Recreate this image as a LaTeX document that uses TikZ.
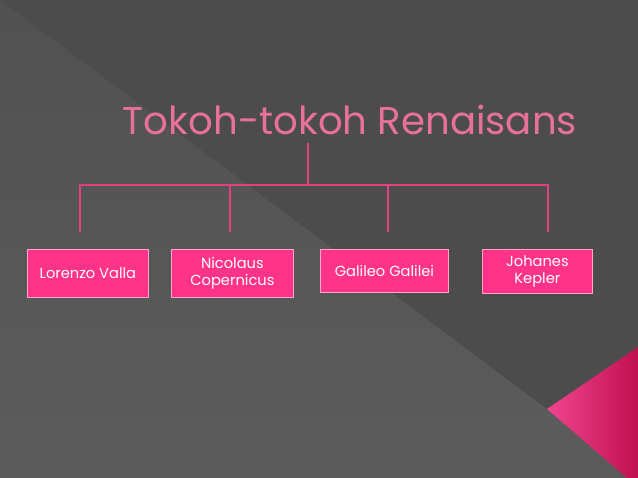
\documentclass[tikz,border=0pt]{standalone}
\usepackage{fontspec}
\setmainfont{Poppins}
\begin{document}
\begin{tikzpicture}[x=0.03cm,y=-0.03cm,
  conn/.style={draw=lnpink,line width=2.2pt},
  pbox/.style={draw=white!55!boxpink,fill=boxpink,line width=0.7pt,text=white,align=center,font=\fontsize{12.5}{15}\selectfont,anchor=north west,inner sep=0pt}]
\definecolor{bgd}{HTML}{4C4C4C}
\definecolor{bgl}{HTML}{5C5C5C}
\definecolor{lnpink}{HTML}{E6407F}
\definecolor{boxpink}{HTML}{FF3388}
\definecolor{ttl}{HTML}{E8719A}
\definecolor{tri1}{HTML}{F0468F}
\definecolor{tri2}{HTML}{C0104F}
\fill[bgd] (0,0) rectangle (638,478);
\shade[top color=bgd!70!bgl,bottom color=bgl] (0,0) -- (547,409) -- (450,478) -- (0,478) -- cycle;
\fill[bgl!95!bgd] (547,409) -- (627,478) -- (450,478) -- cycle;
\shade[left color=tri1,right color=tri2] (638,347) -- (547,409) -- (627,478) -- (638,478) -- cycle;
\useasboundingbox (0,0) rectangle (638,478);
\node[text=ttl,font=\fontsize{33}{37}\selectfont] (t) at (350,120) {Tokoh-tokoh Renaisans};
\coordinate (v1) at (308,143); \coordinate (v2) at (308,185);
\coordinate (h1) at (80,185); \coordinate (h2) at (548,185);
\node[pbox,minimum width=121*0.03cm,minimum height=48*0.03cm] (a) at (27,249) {Lorenzo Valla};
\node[pbox,minimum width=122*0.03cm,minimum height=48*0.03cm] (b) at (171,249) {Nicolaus\\Copernicus};
\node[pbox,minimum width=128*0.03cm,minimum height=43*0.03cm] (c) at (320,249) {Galileo Galilei};
\node[pbox,minimum width=110*0.03cm,minimum height=44*0.03cm] (d) at (482,249) {Johanes\\Kepler};
\draw[conn] (v1) -- (v2);
\draw[conn,line cap=rect] (h1) -- (h2);
\draw[conn] (h1) -- (80,232);
\draw[conn] (230,185) -- (230,232);
\draw[conn] (388,185) -- (388,232);
\draw[conn] (h2) -- (548,232);
\end{tikzpicture}
\end{document}
